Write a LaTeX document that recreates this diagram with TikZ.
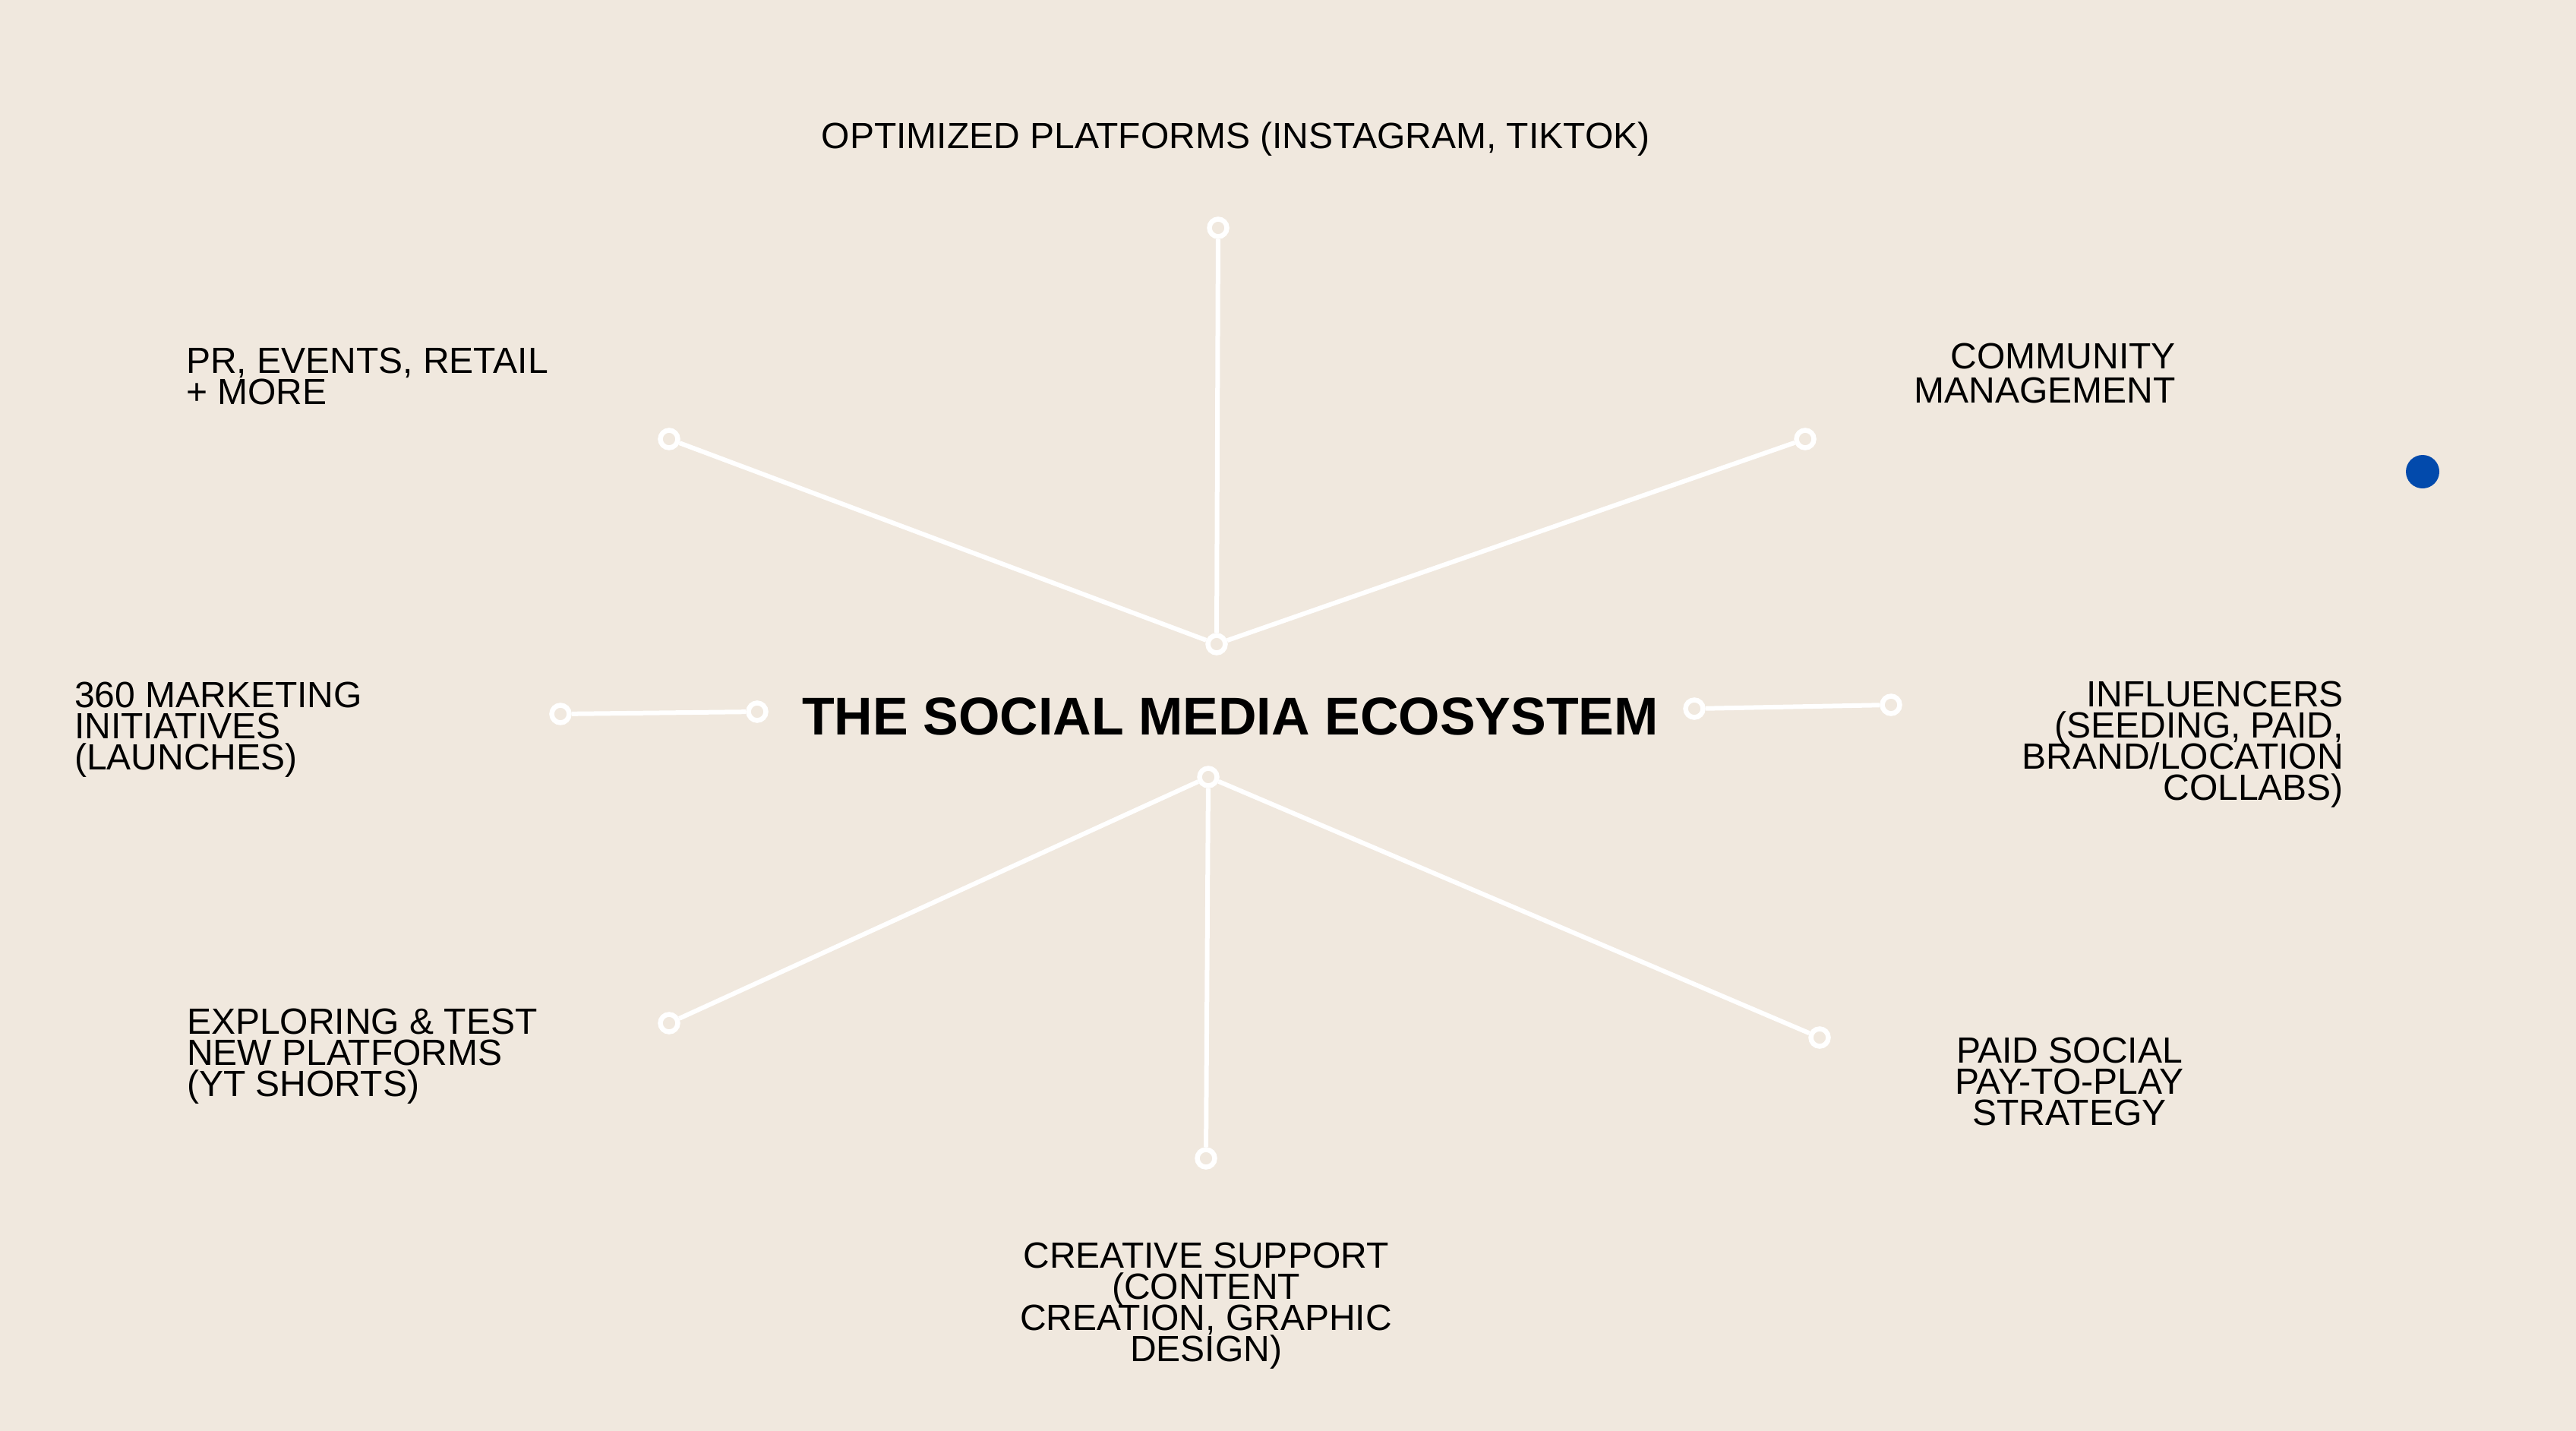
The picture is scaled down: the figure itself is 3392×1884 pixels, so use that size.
\documentclass[tikz,border=0pt]{standalone}
\usepackage{fontspec}
\setmainfont{Liberation Sans}
\definecolor{bg}{HTML}{F0E8DE}
\definecolor{dotblue}{HTML}{024AAC}
\newcommand{\firstln}{\rule{0pt}{40pt}}
\tikzset{
  ring/.style={circle, draw=white, line width=6.5pt, fill=bg, minimum size=23pt, inner sep=0pt},
  spoke/.style={draw=white, line width=6pt},
  lbl/.style={inner sep=0pt, text=black, font={\fontsize{48}{41}\selectfont\lineskiplimit=-100pt}},
  lblwide/.style={inner sep=0pt, text=black, font={\fontsize{48}{45}\selectfont\lineskiplimit=-100pt}},
}
\begin{document}
\begin{tikzpicture}[x=1pt,y=-1pt]
\fill[bg] (0,0) rectangle (3392,1884);
\useasboundingbox (0,0) rectangle (3392,1884);

% end points
\node[ring] (top) at (1604,300) {};
\node[ring] (hubA) at (1602,848) {};
\node[ring] (ul) at (881,578) {};
\node[ring] (ur) at (2377,578) {};
\node[ring] (lA) at (738,940) {};
\node[ring] (lB) at (997,937) {};
\node[ring] (rA) at (2231,933) {};
\node[ring] (rB) at (2490,928) {};
\node[ring] (hubB) at (1591,1023) {};
\node[ring] (ll) at (881,1347) {};
\node[ring] (lr) at (2396,1366) {};
\node[ring] (bot) at (1588,1525) {};

% connectors
\draw[spoke] (top) -- (hubA);
\draw[spoke] (ul) -- (hubA);
\draw[spoke] (ur) -- (hubA);
\draw[spoke] (lA) -- (lB);
\draw[spoke] (rA) -- (rB);
\draw[spoke] (hubB) -- (ll);
\draw[spoke] (hubB) -- (lr);
\draw[spoke] (hubB) -- (bot);

% title
\node[inner sep=0pt, anchor=base, font={\fontsize{70}{80}\selectfont\bfseries}] (title) at (1620,967) {THE SOCIAL MEDIA ECOSYSTEM};

% labels
\node[lbl, anchor=base] (tOpt) at (1627,195) {OPTIMIZED PLATFORMS (INSTAGRAM, TIKTOK)};
\node[lbl, anchor=north west, align=left] (tPR) at (245,451) {\firstln PR, EVENTS, RETAIL\\+ MORE};
\node[lblwide, anchor=north east, align=right] (tCom) at (2865,445) {\firstln COMMUNITY\\MANAGEMENT};
\node[lbl, anchor=north west, align=left] (t360) at (98,891) {\firstln 360 MARKETING\\INITIATIVES\\(LAUNCHES)};
\node[lbl, anchor=north east, align=right] (tInf) at (3086,890) {\firstln INFLUENCERS\\(SEEDING, PAID,\\BRAND/LOCATION\\COLLABS)};
\node[lbl, anchor=north west, align=left] (tExp) at (246,1321) {\firstln EXPLORING \& TEST\\NEW PLATFORMS\\(YT SHORTS)};
\node[lbl, anchor=north, align=center] (tPaid) at (2725,1359) {\firstln PAID SOCIAL\\PAY-TO-PLAY\\STRATEGY};
\node[lbl, anchor=north, align=center] (tCre) at (1588,1629) {\firstln CREATIVE SUPPORT\\(CONTENT\\CREATION, GRAPHIC\\DESIGN)};

% blue dot
\node[circle, fill=dotblue, minimum size=44pt, inner sep=0pt] (dot) at (3190,621) {};
\end{tikzpicture}
\end{document}
